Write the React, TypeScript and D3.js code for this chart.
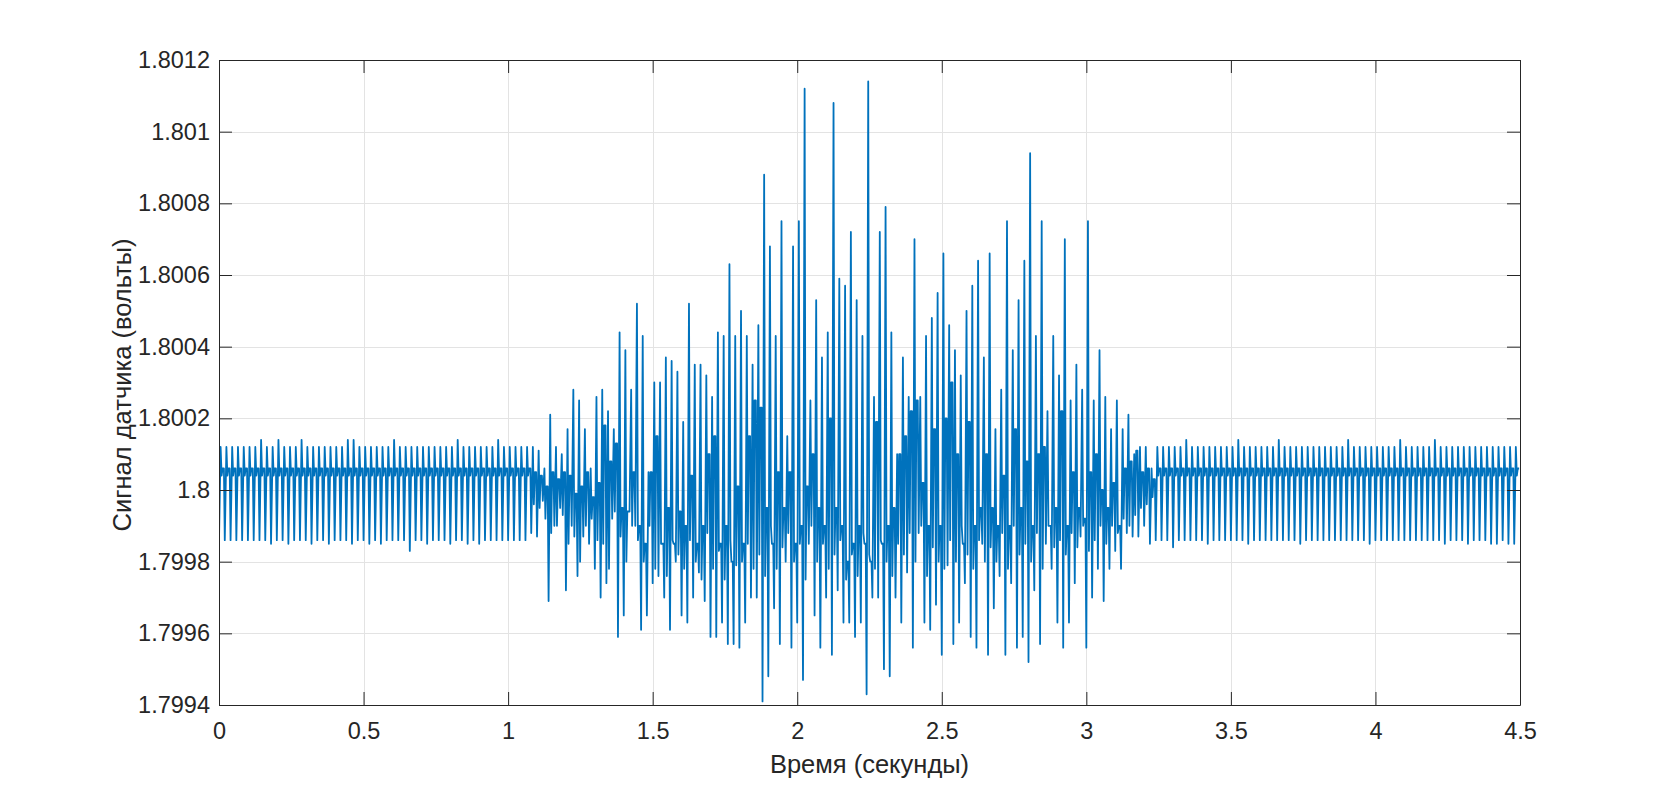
import React, { useRef, useEffect } from 'react';
import * as d3 from 'd3';

// signal is a 50 Hz waveform, one entry per cycle (20 ms)
const cyclePeriod = 0.02;

// highest value reached in each cycle
const peaks = [
  1.80012, 1.80012, 1.80012, 1.80012, 1.80012, 1.80012, 1.80012, 1.80014, 1.80012, 1.80012,
  1.80014, 1.80012, 1.80012, 1.80012, 1.80014, 1.80012, 1.80012, 1.80012, 1.80012, 1.80012,
  1.80012, 1.80012, 1.80014, 1.80014, 1.80012, 1.80012, 1.80012, 1.80012, 1.80012, 1.80012,
  1.80014, 1.80012, 1.80012, 1.80012, 1.80012, 1.80012, 1.80012, 1.80012, 1.80012, 1.80012,
  1.80012, 1.80014, 1.80012, 1.80012, 1.80012, 1.80012, 1.80012, 1.80012, 1.80014, 1.80012,
  1.80012, 1.80012, 1.80012, 1.80012, 1.80012, 1.80011, 1.80006, 1.80021, 1.80012, 1.80010,
  1.80017, 1.80028, 1.80025, 1.80017, 1.80006, 1.80026, 1.80028, 1.80022, 1.80017, 1.80044,
  1.80039, 1.80028, 1.80052, 1.80043, 1.80005, 1.80030, 1.80030, 1.80037, 1.80036, 1.80033,
  1.80019, 1.80052, 1.80035, 1.80035, 1.80032, 1.80026, 1.80044, 1.80043, 1.80063, 1.80043,
  1.80050, 1.80043, 1.80035, 1.80046, 1.80088, 1.80068, 1.80043, 1.80075, 1.80015, 1.80068,
  1.80075, 1.80112, 1.80025, 1.80053, 1.80037, 1.80044, 1.80108, 1.80059, 1.80057, 1.80072,
  1.80053, 1.80043, 1.80114, 1.80026, 1.80072, 1.80079, 1.80044, 1.80010, 1.80037, 1.80026,
  1.80070, 1.80026, 1.80043, 1.80048, 1.80055, 1.80066, 1.80046, 1.80039, 1.80032, 1.80050,
  1.80057, 1.80064, 1.80037, 1.80066, 1.80017, 1.80028, 1.80075, 1.80039, 1.80053, 1.80064,
  1.80094, 1.80043, 1.80075, 1.80022, 1.80043, 1.80032, 1.80070, 1.80025, 1.80035, 1.80028,
  1.80075, 1.80025, 1.80039, 1.80026, 1.80017, 1.80025, 1.80017, 1.80021, 1.80010, 1.80012,
  1.80012, 1.80006, 1.80012, 1.80012, 1.80012, 1.80012, 1.80012, 1.80014, 1.80012, 1.80012,
  1.80012, 1.80012, 1.80012, 1.80012, 1.80012, 1.80012, 1.80014, 1.80012, 1.80012, 1.80012,
  1.80012, 1.80012, 1.80012, 1.80014, 1.80012, 1.80012, 1.80012, 1.80012, 1.80012, 1.80012,
  1.80012, 1.80012, 1.80012, 1.80012, 1.80012, 1.80014, 1.80012, 1.80012, 1.80012, 1.80012,
  1.80012, 1.80012, 1.80012, 1.80012, 1.80014, 1.80012, 1.80012, 1.80012, 1.80012, 1.80012,
  1.80014, 1.80012, 1.80012, 1.80012, 1.80012, 1.80012, 1.80012, 1.80012, 1.80012, 1.80012,
  1.80012, 1.80012, 1.80012, 1.80012, 1.80012,
];

// lowest value in each cycle
const troughs = [
  1.79986, 1.79986, 1.79986, 1.79986, 1.79986, 1.79986, 1.79986, 1.79986, 1.79986, 1.79985,
  1.79986, 1.79986, 1.79985, 1.79986, 1.79986, 1.79986, 1.79985, 1.79986, 1.79986, 1.79985,
  1.79986, 1.79986, 1.79986, 1.79985, 1.79986, 1.79986, 1.79985, 1.79986, 1.79985, 1.79986,
  1.79986, 1.79986, 1.79986, 1.79983, 1.79986, 1.79986, 1.79985, 1.79986, 1.79986, 1.79986,
  1.79985, 1.79986, 1.79986, 1.79985, 1.79986, 1.79985, 1.79986, 1.79986, 1.79986, 1.79986,
  1.79986, 1.79986, 1.79986, 1.79986, 1.79988, 1.79987, 1.79997, 1.79969, 1.79990, 1.79995,
  1.79972, 1.79990, 1.79976, 1.79987, 1.79985, 1.79978, 1.79970, 1.79974, 1.79992, 1.79959,
  1.79965, 1.79994, 1.79990, 1.79961, 1.79965, 1.79974, 1.79976, 1.79970, 1.79961, 1.79980,
  1.79965, 1.79963, 1.79970, 1.79977, 1.79969, 1.79959, 1.79959, 1.79963, 1.79957, 1.79957,
  1.79956, 1.79963, 1.79970, 1.79970, 1.79941, 1.79948, 1.79967, 1.79957, 1.79980, 1.79956,
  1.79963, 1.79947, 1.79985, 1.79965, 1.79956, 1.79970, 1.79954, 1.79972, 1.79963, 1.79963,
  1.79959, 1.79963, 1.79943, 1.79970, 1.79970, 1.79950, 1.79948, 1.79970, 1.79963, 1.79977,
  1.79956, 1.79988, 1.79963, 1.79961, 1.79968, 1.79954, 1.79979, 1.79957, 1.79963, 1.79974,
  1.79959, 1.79956, 1.79985, 1.79954, 1.79967, 1.79976, 1.79954, 1.79974, 1.79956, 1.79959,
  1.79952, 1.79972, 1.79957, 1.79985, 1.79978, 1.79963, 1.79956, 1.79963, 1.79974, 1.79987,
  1.79956, 1.79970, 1.79978, 1.79969, 1.79978, 1.79983, 1.79978, 1.79988, 1.79987, 1.79987,
  1.79990, 1.79985, 1.79986, 1.79986, 1.79986, 1.79984, 1.79986, 1.79986, 1.79986, 1.79986,
  1.79986, 1.79985, 1.79986, 1.79986, 1.79986, 1.79986, 1.79986, 1.79986, 1.79985, 1.79986,
  1.79986, 1.79986, 1.79986, 1.79986, 1.79986, 1.79986, 1.79986, 1.79985, 1.79986, 1.79986,
  1.79986, 1.79986, 1.79986, 1.79986, 1.79986, 1.79986, 1.79986, 1.79986, 1.79986, 1.79985,
  1.79986, 1.79986, 1.79986, 1.79986, 1.79986, 1.79986, 1.79986, 1.79986, 1.79986, 1.79986,
  1.79986, 1.79986, 1.79985, 1.79986, 1.79986, 1.79986, 1.79985, 1.79986, 1.79986, 1.79986,
  1.79985, 1.79985, 1.79986, 1.79985, 1.79985,
];

// small dip right after the peak in each cycle
const dips = [
  1.80004, 1.80004, 1.80004, 1.80004, 1.80004, 1.80004, 1.80004, 1.80004, 1.80004, 1.80004,
  1.80004, 1.80004, 1.80004, 1.80004, 1.80004, 1.80004, 1.80004, 1.80004, 1.80004, 1.80004,
  1.80004, 1.80004, 1.80004, 1.80004, 1.80004, 1.80004, 1.80004, 1.80004, 1.80004, 1.80004,
  1.80004, 1.80004, 1.80004, 1.80004, 1.80004, 1.80004, 1.80004, 1.80004, 1.80004, 1.80004,
  1.80004, 1.80004, 1.80004, 1.80004, 1.80004, 1.80004, 1.80004, 1.80004, 1.80004, 1.80004,
  1.80004, 1.80004, 1.80004, 1.80004, 1.79996, 1.79995, 1.79992, 1.79988, 1.79990, 1.79993,
  1.79985, 1.79987, 1.79980, 1.79990, 1.79992, 1.79986, 1.79985, 1.79978, 1.79994, 1.79987,
  1.79980, 1.79990, 1.79986, 1.79980, 1.79990, 1.79978, 1.79985, 1.79976, 1.79986, 1.79982,
  1.79978, 1.79986, 1.79980, 1.79975, 1.79988, 1.79978, 1.79983, 1.79975, 1.79986, 1.79979,
  1.79980, 1.79985, 1.79978, 1.79982, 1.79976, 1.79990, 1.79978, 1.79984, 1.79988, 1.79980,
  1.79985, 1.79975, 1.79990, 1.79980, 1.79985, 1.79978, 1.79982, 1.79986, 1.79975, 1.79982,
  1.79976, 1.79988, 1.79982, 1.79978, 1.79986, 1.79980, 1.79976, 1.79985, 1.79982, 1.79988,
  1.79980, 1.79990, 1.79976, 1.79984, 1.79980, 1.79978, 1.79986, 1.79980, 1.79990, 1.79982,
  1.79978, 1.79986, 1.79980, 1.79984, 1.79980, 1.79988, 1.79978, 1.79990, 1.79982, 1.79985,
  1.79980, 1.79988, 1.79978, 1.79990, 1.79984, 1.79986, 1.79982, 1.79988, 1.79984, 1.79990,
  1.79983, 1.79986, 1.79990, 1.79985, 1.79990, 1.79988, 1.79992, 1.79990, 1.79993, 1.79995,
  1.79996, 1.79998, 1.80004, 1.80004, 1.80004, 1.80004, 1.80004, 1.80004, 1.80004, 1.80004,
  1.80004, 1.80004, 1.80004, 1.80004, 1.80004, 1.80004, 1.80004, 1.80004, 1.80004, 1.80004,
  1.80004, 1.80004, 1.80004, 1.80004, 1.80004, 1.80004, 1.80004, 1.80004, 1.80004, 1.80004,
  1.80004, 1.80004, 1.80004, 1.80004, 1.80004, 1.80004, 1.80004, 1.80004, 1.80004, 1.80004,
  1.80004, 1.80004, 1.80004, 1.80004, 1.80004, 1.80004, 1.80004, 1.80004, 1.80004, 1.80004,
  1.80004, 1.80004, 1.80004, 1.80004, 1.80004, 1.80004, 1.80004, 1.80004, 1.80004, 1.80004,
  1.80004, 1.80004, 1.80004, 1.80004, 1.80004,
];

// level the signal settles at before the next trough
const shoulders = [
  1.80006, 1.80006, 1.80006, 1.80006, 1.80006, 1.80006, 1.80006, 1.80006, 1.80006, 1.80006,
  1.80006, 1.80006, 1.80006, 1.80006, 1.80006, 1.80006, 1.80006, 1.80006, 1.80006, 1.80006,
  1.80006, 1.80006, 1.80006, 1.80006, 1.80006, 1.80006, 1.80006, 1.80006, 1.80006, 1.80006,
  1.80006, 1.80006, 1.80006, 1.80006, 1.80006, 1.80006, 1.80006, 1.80006, 1.80006, 1.80006,
  1.80006, 1.80006, 1.80006, 1.80006, 1.80006, 1.80006, 1.80006, 1.80006, 1.80006, 1.80006,
  1.80006, 1.80006, 1.80006, 1.80006, 1.80005, 1.80004, 1.80001, 1.80005, 1.80003, 1.80005,
  1.80004, 1.79999, 1.80001, 1.80005, 1.79998, 1.80002, 1.80018, 1.80008, 1.80013, 1.79995,
  1.79994, 1.80005, 1.79990, 1.79985, 1.80005, 1.80015, 1.79985, 1.79995, 1.79985, 1.79994,
  1.79990, 1.80004, 1.79985, 1.79990, 1.80010, 1.80015, 1.79985, 1.79990, 1.79980, 1.80001,
  1.79985, 1.80015, 1.80025, 1.80023, 1.79995, 1.79985, 1.80005, 1.79995, 1.80005, 1.79985,
  1.79990, 1.80001, 1.80010, 1.79995, 1.79990, 1.80020, 1.79995, 1.79990, 1.79980, 1.79985,
  1.79990, 1.79985, 1.79980, 1.80019, 1.79985, 1.79990, 1.79995, 1.80010, 1.80015, 1.80022,
  1.80025, 1.80002, 1.79990, 1.80017, 1.79990, 1.80020, 1.80030, 1.80010, 1.79985, 1.80019,
  1.79990, 1.79995, 1.80010, 1.79995, 1.79990, 1.80004, 1.79990, 1.80017, 1.79995, 1.80008,
  1.79990, 1.80010, 1.80012, 1.79990, 1.79995, 1.80022, 1.79990, 1.80005, 1.79995, 1.79992,
  1.80005, 1.80010, 1.80000, 1.79995, 1.80002, 1.79990, 1.80006, 1.80008, 1.80011, 1.80005,
  1.80006, 1.80003, 1.80006, 1.80006, 1.80006, 1.80006, 1.80006, 1.80006, 1.80006, 1.80006,
  1.80006, 1.80006, 1.80006, 1.80006, 1.80006, 1.80006, 1.80006, 1.80006, 1.80006, 1.80006,
  1.80006, 1.80006, 1.80006, 1.80006, 1.80006, 1.80006, 1.80006, 1.80006, 1.80006, 1.80006,
  1.80006, 1.80006, 1.80006, 1.80006, 1.80006, 1.80006, 1.80006, 1.80006, 1.80006, 1.80006,
  1.80006, 1.80006, 1.80006, 1.80006, 1.80006, 1.80006, 1.80006, 1.80006, 1.80006, 1.80006,
  1.80006, 1.80006, 1.80006, 1.80006, 1.80006, 1.80006, 1.80006, 1.80006, 1.80006, 1.80006,
  1.80006, 1.80006, 1.80006, 1.80006, 1.80006,
];

const xTicks = [0, 0.5, 1, 1.5, 2, 2.5, 3, 3.5, 4, 4.5];
const xTickLabels = ['0', '0.5', '1', '1.5', '2', '2.5', '3', '3.5', '4', '4.5'];
const yTicks = [1.7994, 1.7996, 1.7998, 1.8, 1.8002, 1.8004, 1.8006, 1.8008, 1.801, 1.8012];
const yTickLabels = ['1.7994', '1.7996', '1.7998', '1.8', '1.8002', '1.8004', '1.8006', '1.8008', '1.801', '1.8012'];
const xTitle = 'Время (секунды)';
const yTitle = 'Сигнал датчика (вольты)';

const Chart = () => {
  const chartRef = useRef<SVGSVGElement>(null);

  useEffect(() => {
    const width = 1680;
    const height = 793;
    const plot = { left: 219, top: 60, right: 1520, bottom: 705 };
    const font = "'Liberation Sans', Arial, Helvetica, sans-serif";
    const axisColor = '#262626';
    const tickLen = 13;

    const x = d3.scaleLinear().domain([0, 4.5]).range([plot.left, plot.right]);
    const y = d3.scaleLinear().domain([1.7994, 1.8012]).range([plot.bottom, plot.top]);

    const svg = d3.select(chartRef.current)
      .attr('width', width)
      .attr('height', height);

    svg.selectAll('*').remove();

    svg.append('rect')
      .attr('width', width)
      .attr('height', height)
      .attr('fill', '#fff');

    // grid
    const grid = svg.append('g').attr('stroke', '#e3e3e3').attr('stroke-width', 1);
    grid.selectAll('line.gx')
      .data(xTicks.slice(1, -1))
      .join('line')
      .attr('x1', d => Math.round(x(d)) + 0.5)
      .attr('x2', d => Math.round(x(d)) + 0.5)
      .attr('y1', plot.top)
      .attr('y2', plot.bottom);
    grid.selectAll('line.gy')
      .data(yTicks.slice(1, -1))
      .join('line')
      .attr('class', 'gy')
      .attr('x1', plot.left)
      .attr('x2', plot.right)
      .attr('y1', d => Math.round(y(d)) + 0.5)
      .attr('y2', d => Math.round(y(d)) + 0.5);

    // signal: trough, peak, dip, then shoulder plateau in every cycle
    const cycleShape = [0, 0.28, 0.45, 0.62, 0.85];
    const points: [number, number][] = [];
    peaks.forEach((hi, k) => {
      const t0 = k * cyclePeriod;
      const vals = [troughs[k], hi, dips[k], shoulders[k], shoulders[k]];
      cycleShape.forEach((f, j) => points.push([t0 + f * cyclePeriod, vals[j]]));
    });

    svg.append('defs').append('clipPath').attr('id', 'plotClip')
      .append('rect')
      .attr('x', plot.left)
      .attr('y', plot.top)
      .attr('width', plot.right - plot.left)
      .attr('height', plot.bottom - plot.top);

    const line = d3.line<[number, number]>()
      .x(d => x(d[0]))
      .y(d => y(d[1]));

    svg.append('path')
      .datum(points)
      .attr('clip-path', 'url(#plotClip)')
      .attr('fill', 'none')
      .attr('stroke', '#0072BD')
      .attr('stroke-width', 1.8)
      .attr('stroke-linejoin', 'round')
      .attr('d', line);

    // axes, matlab style box with inward ticks
    const styleAxis = (g: any) => {
      g.selectAll('path.domain').attr('stroke', axisColor).attr('stroke-width', 1);
      g.selectAll('.tick line').attr('stroke', axisColor).attr('stroke-width', 1);
      g.selectAll('text')
        .attr('fill', axisColor)
        .style('font-family', font)
        .style('font-size', '23.5px');
    };

    svg.append('g')
      .attr('transform', `translate(0,${plot.bottom})`)
      .call(d3.axisBottom(x).tickValues(xTicks).tickFormat((d, i) => xTickLabels[i])
        .tickSizeInner(-tickLen).tickSizeOuter(0).tickPadding(17))
      .call(styleAxis);

    svg.append('g')
      .attr('transform', `translate(0,${plot.top})`)
      .call(d3.axisTop(x).tickValues(xTicks).tickFormat(() => '')
        .tickSizeInner(-tickLen).tickSizeOuter(0))
      .call(styleAxis);

    svg.append('g')
      .attr('transform', `translate(${plot.left},0)`)
      .call(d3.axisLeft(y).tickValues(yTicks).tickFormat((d, i) => yTickLabels[i])
        .tickSizeInner(-tickLen).tickSizeOuter(0).tickPadding(9))
      .call(styleAxis);

    svg.append('g')
      .attr('transform', `translate(${plot.right},0)`)
      .call(d3.axisRight(y).tickValues(yTicks).tickFormat(() => '')
        .tickSizeInner(-tickLen).tickSizeOuter(0))
      .call(styleAxis);

    svg.append('text')
      .attr('x', (plot.left + plot.right) / 2)
      .attr('y', 773)
      .attr('text-anchor', 'middle')
      .attr('fill', axisColor)
      .style('font-family', font)
      .style('font-size', '25.5px')
      .text(xTitle);

    svg.append('text')
      .attr('transform', `translate(131,385) rotate(-90)`)
      .attr('text-anchor', 'middle')
      .attr('fill', axisColor)
      .style('font-family', font)
      .style('font-size', '25.5px')
      .text(yTitle);
  }, []);

  return <svg ref={chartRef} style={{ position: 'absolute', left: 0, top: 0 }}></svg>;
};

export default function App() {
  return <Chart />;
}
